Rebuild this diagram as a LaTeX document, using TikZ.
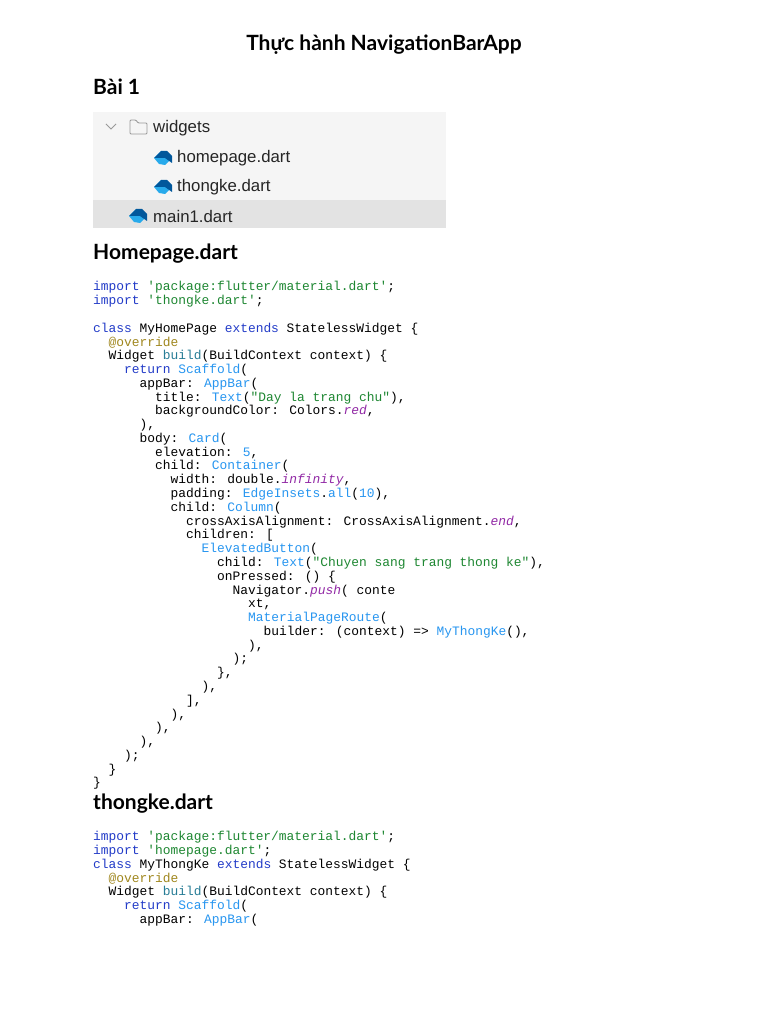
\documentclass[tikz,border=0pt]{standalone}
\usepackage{fontspec}
\setmainfont{Lato}
\newfontfamily\mono{Liberation Mono}
\newfontfamily\ui{Liberation Sans}
\definecolor{kw}{RGB}{35,60,200}
\definecolor{fn}{RGB}{40,125,150}
\definecolor{cls}{RGB}{40,150,240}
\definecolor{str}{RGB}{30,135,50}
\definecolor{it}{RGB}{145,40,165}
\definecolor{ann}{RGB}{160,135,30}
\definecolor{dk}{RGB}{1,87,155}
\definecolor{lt}{RGB}{40,170,235}
\newcommand{\K}[1]{\textcolor{kw}{#1}}
\newcommand{\F}[1]{\textcolor{fn}{#1}}
\newcommand{\C}[1]{\textcolor{cls}{#1}}
\newcommand{\Sq}[1]{\textcolor{str}{#1}}
\newcommand{\I}[1]{\textcolor{it}{\itshape #1}}
\newcommand{\A}[1]{\textcolor{ann}{#1}}
\newcommand{\cl}[4]{\node[codeline] (#1) at (93+#3*7.75, #2+1.5) {#4};}
\begin{document}
\begin{tikzpicture}[x=1pt,y=-1pt,
  codeline/.style={anchor=west,inner sep=0pt,font=\mono\fontsize{12.9}{14}\selectfont},
  head/.style={inner sep=0pt,font=\bfseries\fontsize{21}{25}\selectfont},
  tree/.style={anchor=west,inner sep=0pt,text=black!85,font=\ui\fontsize{16.8}{19}\selectfont}]
\useasboundingbox (0,0) rectangle (768,1024);
\fill[white] (0,0) rectangle (768,1024);
% headings
\node[head] (title) at (384,45) {Thực hành NavigationBarApp};
\node[head,anchor=west] (bai) at (93,87) {Bài 1};
\node[head,anchor=west] (hp) at (93,254) {Homepage.dart};
\node[head,anchor=west] (tk) at (93,804) {thongke.dart};
% tree
\fill[gray!8] (93,112) rectangle (446,200);
\fill[gray!22] (93,200) rectangle (446,228);
\draw[gray!80,line width=1pt] (106,124) -- (111,129) -- (116,124);
\draw[gray!80,line width=0.9pt,rounded corners=1pt] (130,120) -- (130,134) -- (147,134) -- (147,123) -- (138,123) -- (136,120) -- cycle;
\node[tree] (w) at (153,128.5) {widgets};
\newcommand{\dart}[2]{%
  \fill[lt] (#1-9,#2+1) -- (#1-2,#2-6) -- (#1+7,#2+3) -- (#1+2,#2+8) -- (#1-4,#2+7) -- cycle;
  \fill[dk] (#1-9,#2+1) -- (#1-2,#2-6) -- (#1+4,#2-6) -- (#1+9,#2-1) -- (#1+9,#2+6) -- (#1+2,#2+1) -- cycle;}
\dart{163}{157}
\node[tree] (h) at (177,158) {homepage.dart};
\dart{163}{186}
\node[tree] (t) at (177,187) {thongke.dart};
\dart{138}{215}
\node[tree] (m) at (153,216) {main1.dart};
% homepage code
\def\s{13.78}
\cl{a0}{286}{0}{\K{import} \Sq{'package:flutter/material.dart'};}
\cl{a1}{286+\s}{0}{\K{import} \Sq{'thongke.dart'};}
\cl{a3}{286+3*\s}{0}{\K{class} MyHomePage \K{extends} StatelessWidget \{}
\cl{a4}{286+4*\s}{2}{\A{@override}}
\cl{a5}{286+5*\s}{2}{Widget \F{build}(BuildContext context) \{}
\cl{a6}{286+6*\s}{4}{\K{return} \C{Scaffold}(}
\cl{a7}{286+7*\s}{6}{appBar: \C{AppBar}(}
\cl{a8}{286+8*\s}{8}{title: \C{Text}(\Sq{"Day la trang chu"}),}
\cl{a9}{286+9*\s}{8}{backgroundColor: Colors.\I{red},}
\cl{a10}{286+10*\s}{6}{),}
\cl{a11}{286+11*\s}{6}{body: \C{Card}(}
\cl{a12}{286+12*\s}{8}{elevation: \C{5},}
\cl{a13}{286+13*\s}{8}{child: \C{Container}(}
\cl{a14}{286+14*\s}{10}{width: double.\I{infinity},}
\cl{a15}{286+15*\s}{10}{padding: \C{EdgeInsets}.\C{all}(\C{10}),}
\cl{a16}{286+16*\s}{10}{child: \C{Column}(}
\cl{a17}{286+17*\s}{12}{crossAxisAlignment: CrossAxisAlignment.\I{end},}
\cl{a18}{286+18*\s}{12}{children: [}
\cl{a19}{286+19*\s}{14}{\C{ElevatedButton}(}
\cl{a20}{286+20*\s}{16}{child: \C{Text}(\Sq{"Chuyen sang trang thong ke"}),}
\cl{a21}{286+21*\s}{16}{onPressed: () \{}
\cl{a22}{286+22*\s}{18}{Navigator.\I{push}( conte}
\cl{a23}{286+23*\s}{20}{xt,}
\cl{a24}{286+24*\s}{20}{\C{MaterialPageRoute}(}
\cl{a25}{286+25*\s}{22}{builder: (context) => \C{MyThongKe}(),}
\cl{a26}{286+26*\s}{20}{),}
\cl{a27}{286+27*\s}{18}{);}
\cl{a28}{286+28*\s}{16}{\},}
\cl{a29}{286+29*\s}{14}{),}
\cl{a30}{286+30*\s}{12}{],}
\cl{a31}{286+31*\s}{10}{),}
\cl{a32}{286+32*\s}{8}{),}
\cl{a33}{286+33*\s}{6}{),}
\cl{a34}{286+34*\s}{4}{);}
\cl{a35}{286+35*\s}{2}{\}}
\cl{a36}{286+36*\s}{0}{\}}
% thongke code
\cl{b0}{836}{0}{\K{import} \Sq{'package:flutter/material.dart'};}
\cl{b1}{836+\s}{0}{\K{import} \Sq{'homepage.dart'};}
\cl{b2}{836+2*\s}{0}{\K{class} MyThongKe \K{extends} StatelessWidget \{}
\cl{b3}{836+3*\s}{2}{\A{@override}}
\cl{b4}{836+4*\s}{2}{Widget \F{build}(BuildContext context) \{}
\cl{b5}{836+5*\s}{4}{\K{return} \C{Scaffold}(}
\cl{b6}{836+6*\s}{6}{appBar: \C{AppBar}(}
\end{tikzpicture}
\end{document}
